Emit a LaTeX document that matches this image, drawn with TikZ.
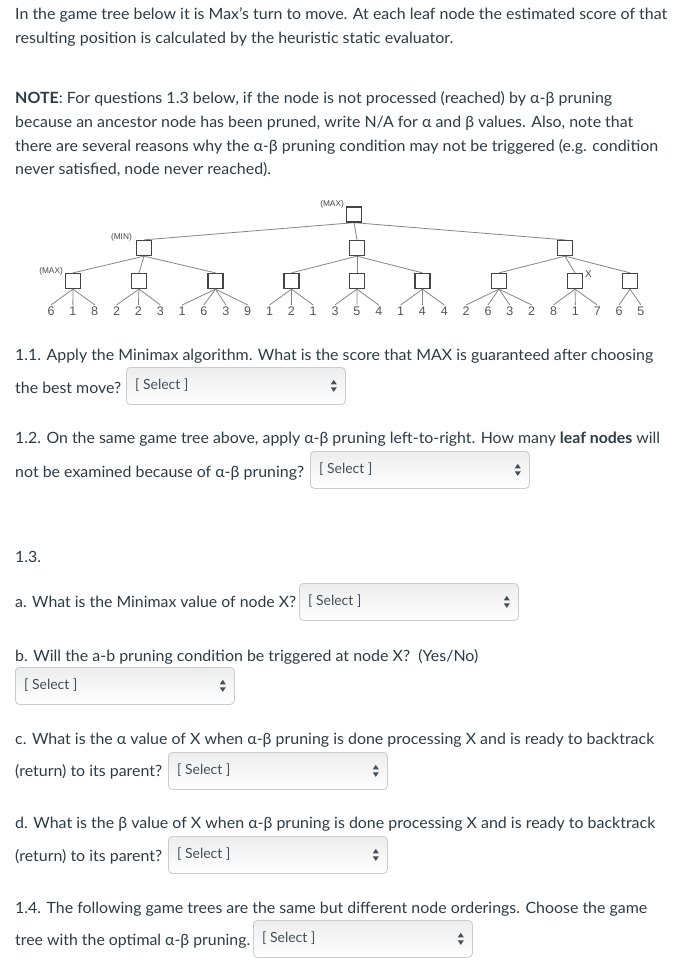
\documentclass[tikz,border=0pt]{standalone}
\usepackage{fontspec}
\setmainfont{Lato}
\newfontfamily\treefont{Liberation Sans}
\usepackage{graphicx}
\usetikzlibrary{calc}
\definecolor{txt}{HTML}{2D3B45}
\definecolor{boxc}{HTML}{444444}
\definecolor{edgec}{HTML}{858585}
\definecolor{leafc}{HTML}{555555}
\tikzset{
  qtext/.style={anchor=base west, inner sep=0pt, text=txt, font=\fontsize{15.5}{18}\selectfont},
  tbox/.style={draw=boxc, line width=1.3pt, fill=white, minimum size=15pt, inner sep=0pt},
  leaf/.style={inner sep=2pt, text=leafc, font=\treefont\fontsize{12.5}{13}\selectfont},
  tlabel/.style={inner sep=0pt, text=boxc, font=\treefont\fontsize{8.3}{9}\selectfont},
  tedge/.style={draw=edgec, line width=0.8pt},
  selbox/.style={draw=gray!40, line width=0.8pt, rounded corners=4pt, top color=gray!14, bottom color=white, minimum width=219pt, minimum height=37pt, inner sep=0pt, anchor=north west},
  seltext/.style={anchor=west, inner sep=0pt, text=txt!90, font=\fontsize{14}{16}\selectfont},
}
\newcommand\qline[4]{\node[qtext] (#1) at (15,#2) {\resizebox{#3pt}{\height}{#4}};}
\newcommand\selbx[3]{%
  \node[selbox] (#1) at (#2,#3) {};
  \node[seltext] (#1t) at ([xshift=9pt,yshift=1pt]#1.west) {[ Select ]};
  \fill[txt!90] ($(#1.east)+(-12,-1.5)$) -- ++(-3,0) -- ++(3,-4.5) -- ++(3,4.5) -- cycle;
  \fill[txt!90] ($(#1.east)+(-12,1.5)$) -- ++(-3,0) -- ++(3,4.5) -- ++(3,-4.5) -- cycle;
}
\begin{document}
\begin{tikzpicture}[x=1pt,y=-1pt]
\useasboundingbox (0,0) rectangle (688,970);
\fill[white] (0,0) rectangle (688,970);

% intro text
\qline{l1}{19}{652}{In the game tree below it is Max's turn to move. At each leaf node the estimated score of that}
\qline{l2}{43}{438}{resulting position is calculated by the heuristic static evaluator.}
\qline{n1}{103}{597}{\textbf{NOTE}: For questions 1.3 below, if the node is not processed (reached) by α-β pruning}
\qline{n2}{127}{618}{because an ancestor node has been pruned, write N/A for α and β values. Also, note that}
\qline{n3}{151}{643}{there are several reasons why the α-β pruning condition may not be triggered (e.g. condition}
\qline{n4}{174}{256}{never satisfied, node never reached).}

% tree
\node[tbox] (r) at (354,214.5) {};
\node[tbox] (m1) at (144,248) {};
\node[tbox] (m2) at (357,248) {};
\node[tbox] (m3) at (565,248) {};
\foreach \i/\x in {1/73,2/139,3/215.5,4/291.5,5/357,6/422.5,7/499,8/575,9/630}
  \node[tbox] (x\i) at (\x,281) {};
\foreach \i/\v in {0/6,1/1,2/8,3/2,4/2,5/3,6/1,7/6,8/3,9/9,10/1,11/2,12/1,13/3,14/5,15/4,16/1,17/4,18/4,19/2,20/6,21/3,22/2,23/8,24/1,25/7,26/6,27/5}
  \node[leaf] (f\i) at ({51+21.85*\i},311.5) {\v};
\foreach \m in {m1,m2,m3} \draw[tedge] (r.south) -- (\m.north);
\foreach \x in {x1,x2,x3} \draw[tedge] (m1.south) -- (\x.north);
\foreach \x in {x4,x5,x6} \draw[tedge] (m2.south) -- (\x.north);
\foreach \x in {x7,x8,x9} \draw[tedge] (m3.south) -- (\x.north);
\foreach \p/\a/\b in {x1/0/2,x2/3/5,x3/6/9,x4/10/12,x5/13/15,x6/16/18,x7/19/22,x8/23/25,x9/26/27}
  \foreach \j in {\a,...,\b} \draw[tedge] (\p.south) -- (f\j.north);
% redraw boxes on top of the connectors
\node[tbox] at (r) {};
\foreach \n in {m1,m2,m3,x1,x2,x3,x4,x5,x6,x7,x8,x9} \node[tbox] at (\n) {};
\node[tlabel, anchor=east] (lr) at (344,204) {(MAX)};
\node[tlabel, anchor=east] (lm) at (132,237) {(MIN)};
\node[tlabel, anchor=east] (lx) at (63,271) {(MAX)};
\node[tlabel, font=\treefont\fontsize{10}{11}\selectfont] (lX) at (588.5,274.5) {X};

% questions
\qline{q11a}{360}{638}{1.1. Apply the Minimax algorithm. What is the score that MAX is guaranteed after choosing}
\qline{q11b}{393}{106}{the best move?}
\selbx{s1}{126}{367}
\qline{q12a}{443}{645}{1.2. On the same game tree above, apply α-β pruning left-to-right. How many \textbf{leaf nodes} will}
\qline{q12b}{477}{289}{not be examined because of α-β pruning?}
\selbx{s2}{310}{451}
\qline{q13}{562}{26}{1.3.}
\qline{qa}{607}{281}{a. What is the Minimax value of node X?}
\selbx{s3}{299}{583}
\qline{qb}{661}{463}{b. Will the a-b pruning condition be triggered at node X?\ \ (Yes/No)}
\selbx{s4}{15}{667}
\qline{qc1}{744}{639}{c. What is the α value of X when α-β pruning is done processing X and is ready to backtrack}
\qline{qc2}{776}{147}{(return) to its parent?}
\selbx{s5}{168}{752}
\qline{qd1}{828}{640}{d. What is the β value of X when α-β pruning is done processing X and is ready to backtrack}
\qline{qd2}{861}{147}{(return) to its parent?}
\selbx{s6}{168}{836}
\qline{q14a}{913}{632}{1.4. The following game trees are the same but different node orderings. Choose the game}
\qline{q14b}{945}{235}{tree with the optimal α-β pruning.}
\selbx{s7}{253}{920}
\end{tikzpicture}
\end{document}
